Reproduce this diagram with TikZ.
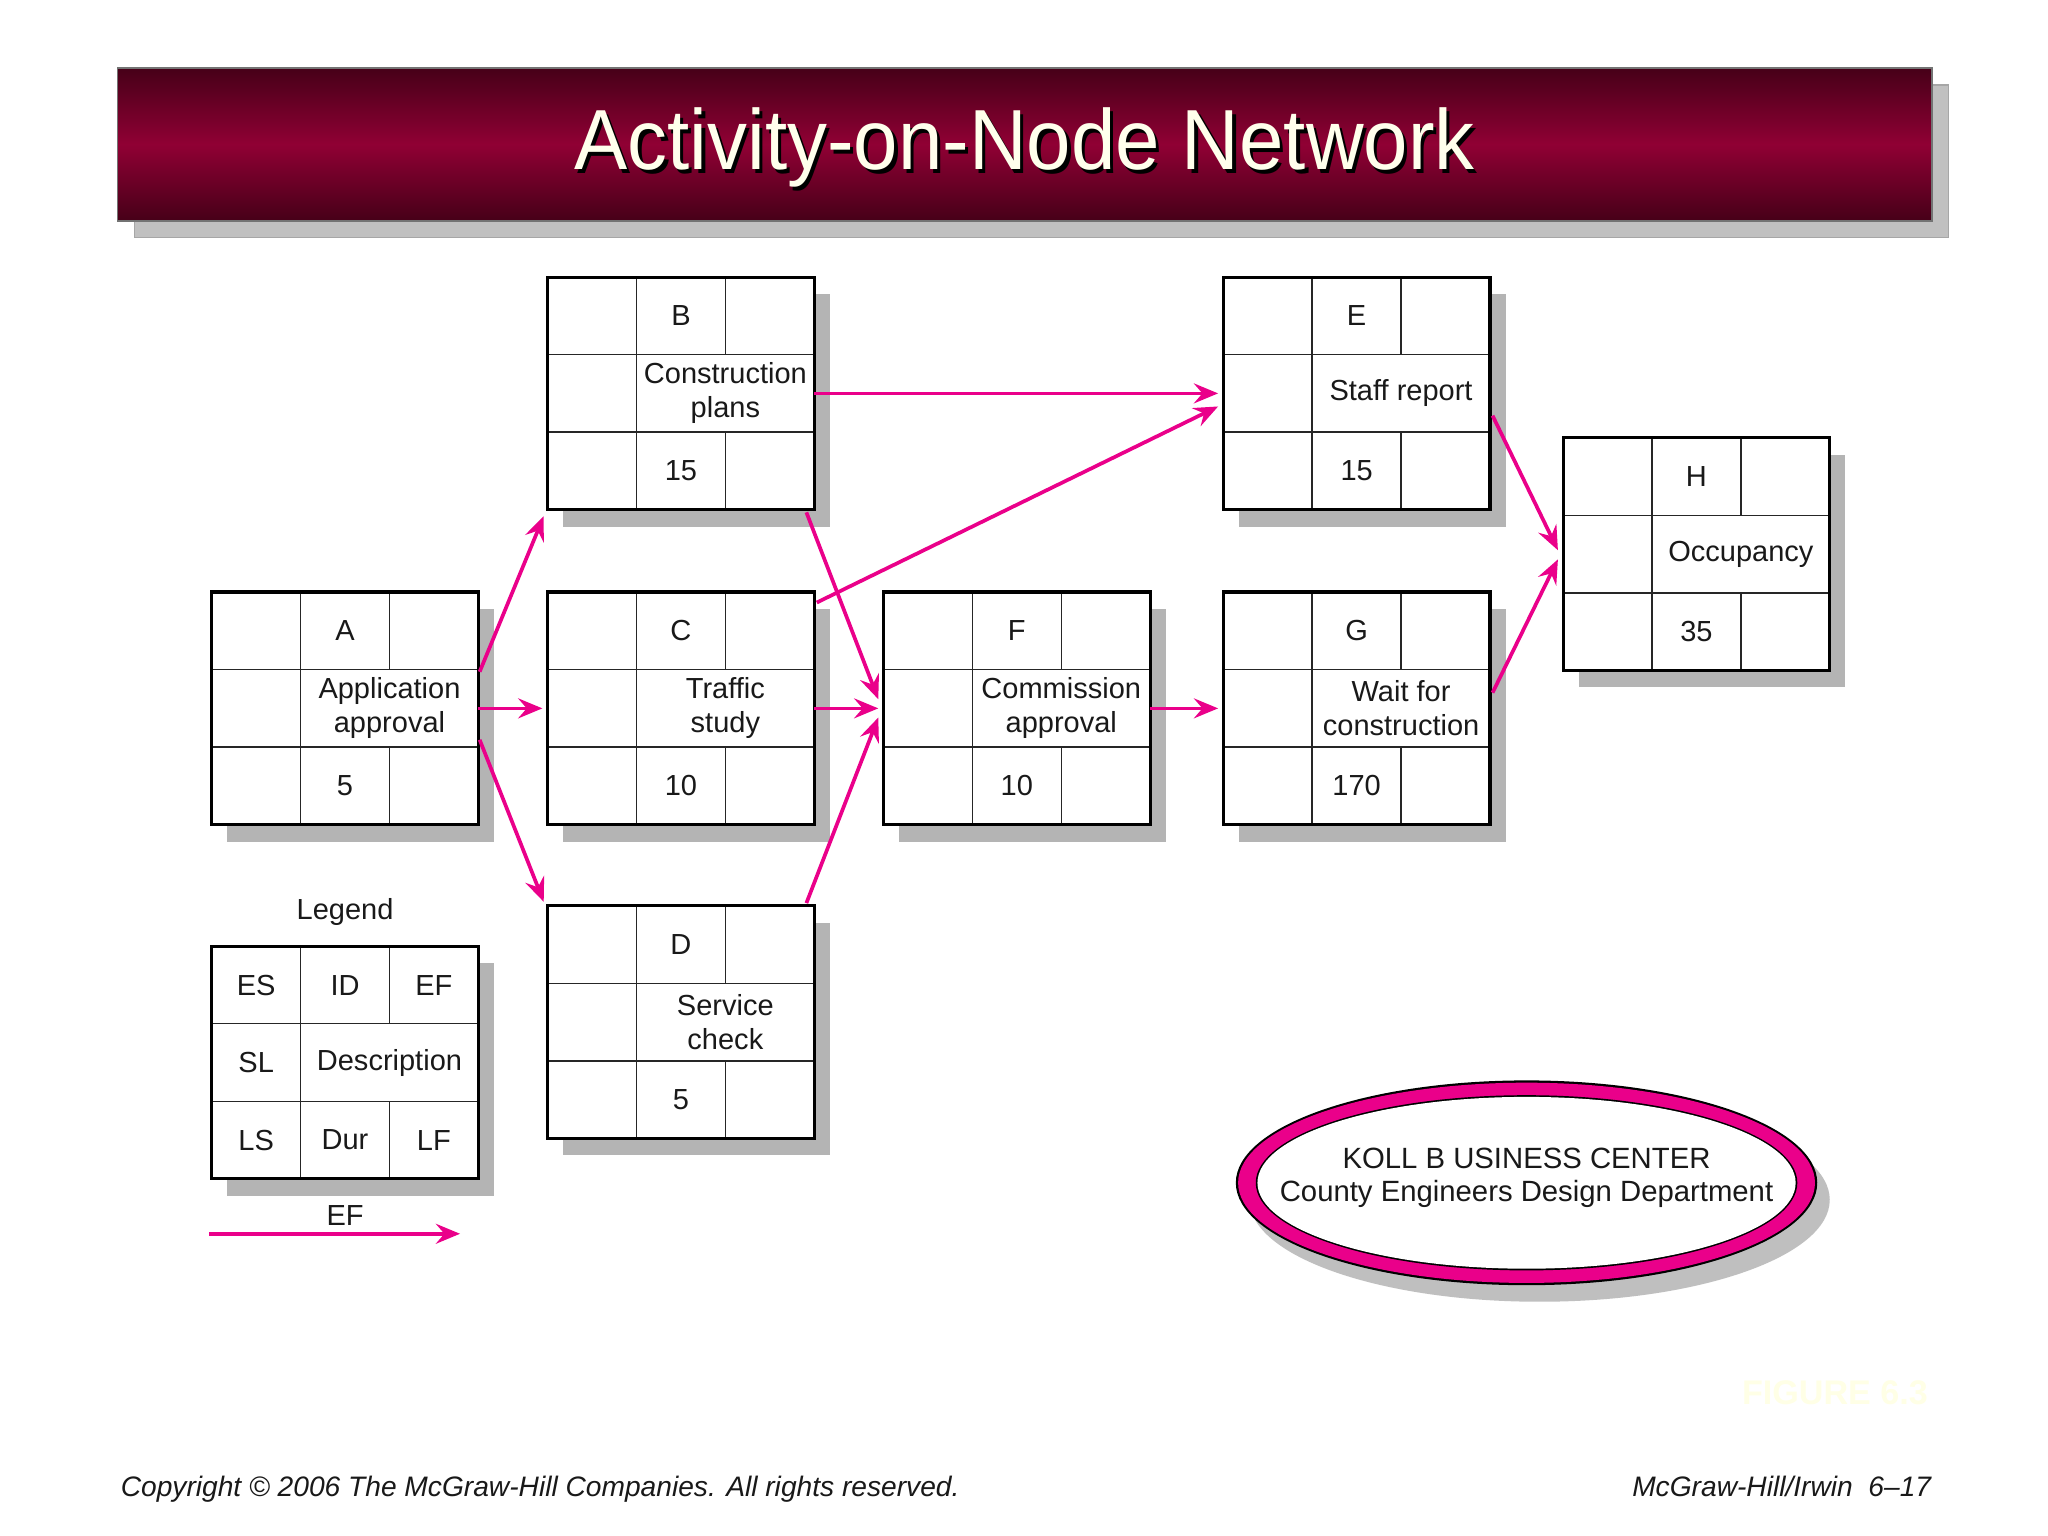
\documentclass[tikz,border=0pt]{standalone}
\usepackage{fontspec}
\setmainfont{Liberation Sans}
\usetikzlibrary{calc,arrows.meta}
\definecolor{pinkarrow}{RGB}{234,0,138}
\definecolor{boxshadow}{RGB}{180,180,180}
\definecolor{bannerdark}{RGB}{70,0,24}
\definecolor{bannermid}{RGB}{144,0,52}
\definecolor{bannershadow}{RGB}{192,192,192}
\definecolor{titlecream}{RGB}{255,255,236}
\definecolor{faintyellow}{RGB}{255,255,230}
\newcommand{\gridbox}[2]{%
  \coordinate (#1c) at #2;
  \fill[shadowfill] ($(#1c)+(-90,-76)$) rectangle ($(#1c)+(114,102)$);
  \node[boxframe] (#1) at (#1c) {};
  \draw[cellline] ($(#1c)+(-102,-29.67)$) -- ($(#1c)+(102,-29.67)$)
    ($(#1c)+(-102,29.67)$) -- ($(#1c)+(102,29.67)$)
    ($(#1c)+(-34,-89)$) -- ($(#1c)+(-34,89)$)
    ($(#1c)+(34,-89)$) -- ($(#1c)+(34,-29.67)$)
    ($(#1c)+(34,29.67)$) -- ($(#1c)+(34,89)$);
  \draw[line width=1.1pt] (#1.north west) rectangle (#1.south east);
}
\newcommand{\actbox}[5]{%
  \gridbox{#1}{#2}
  \node (#1-id) at ($(#1c)+(0,-59.33)$) {#3};
  \node[align=center] (#1-desc) at ($(#1c)+(34,0)$) {#4};
  \node (#1-dur) at ($(#1c)+(0,59.33)$) {#5};
}
\begin{document}
\begin{tikzpicture}[x=0.45948pt,y=-0.45948pt,
  every node/.style={font=\fontsize{10.2}{12}\selectfont, text=black!90, inner sep=0pt},
  boxframe/.style={rectangle, fill=white, draw=none, outer sep=0pt, minimum width=93.73pt, minimum height=81.79pt},
  cellline/.style={draw=black!85, line width=0.5pt},
  shadowfill/.style={fill=boxshadow},
  link/.style={draw=pinkarrow, line width=1.3pt, -{Stealth[length=8.5pt,width=7pt,inset=3pt]}},
]
\useasboundingbox (0,0) rectangle (1567,1175);
\fill[white] (0,0) rectangle (1567,1175);

% banner
\fill[bannershadow, draw=black!35, line width=0.4pt] (103,65) rectangle (1491,182);
\shade[top color=bannerdark, bottom color=bannerdark, middle color=bannermid] (90,52) rectangle (1478,169);
\draw[black!55, line width=0.6pt] (90,52) rectangle (1478,169);
\node[text=black, font=\fontsize{30}{36}\selectfont] (titleshadow) at (786.5,115.5) {\scalebox{0.935}[1]{Activity-on-Node Network}};
\node[text=titlecream, font=\fontsize{30}{36}\selectfont] (title) at (784,113) {\scalebox{0.935}[1]{Activity-on-Node Network}};

% activity boxes
\actbox{B}{(521,301)}{B}{Construction\\plans}{15}
\actbox{E}{(1038,301)}{E}{Staff report}{15}
\actbox{A}{(264,542)}{A}{Application\\approval}{5}
\actbox{C}{(521,542)}{C}{Traffic\\study}{10}
\actbox{F}{(778,542)}{F}{Commission\\approval}{10}
\actbox{G}{(1038,542)}{G}{Wait for\\construction}{170}
\actbox{H}{(1298,424)}{H}{Occupancy}{35}
\actbox{D}{(521,782)}{D}{Service\\check}{5}

% legend
\node (legendlabel) at (264,698) {Legend};
\gridbox{L}{(264,813)}
\node (L-es) at ($(Lc)+(-68,-59.33)$) {ES};
\node (L-id) at ($(Lc)+(0,-59.33)$) {ID};
\node (L-ef) at ($(Lc)+(68,-59.33)$) {EF};
\node (L-sl) at ($(Lc)+(-68,0)$) {SL};
\node (L-desc) at ($(Lc)+(34,0)$) {Description};
\node (L-ls) at ($(Lc)+(-68,59.33)$) {LS};
\node (L-dur) at ($(Lc)+(0,59.33)$) {Dur};
\node (L-lf) at ($(Lc)+(68,59.33)$) {LF};
\node (eflabel) at (264,930) {EF};
\coordinate (efstart) at (160,944);
\coordinate (efend) at (352,944);
\draw[link] (efstart) -- (efend);

% connectors
\draw[link] ($(A.east)+(1,-28)$) -- ($(B.south west)+(-3,5)$);
\draw[link] (A.east) -- ($(C.west)+(-4,0)$);
\draw[link] ($(A.east)+(1,24)$) -- ($(D.north west)+(-3,-3)$);
\draw[link] (B.east) -- ($(E.west)+(-4,0)$);
\draw[link] ($(B.south east)+(-6,2)$) -- ($(F.west)+(-4,-7)$);
\draw[link] ($(C.north east)+(2,8)$) -- ($(E.west)+(-4,10)$);
\draw[link] (C.east) -- ($(F.west)+(-4,0)$);
\draw[link] ($(D.north east)+(-6,-2)$) -- ($(F.west)+(-4,7)$);
\draw[link] (F.east) -- ($(G.west)+(-4,0)$);
\draw[link] ($(E.east)+(2,17)$) -- ($(H.west)+(-4,-3)$);
\draw[link] ($(G.east)+(2,-12)$) -- ($(H.west)+(-4,4)$);

% ellipse label
\fill[boxshadow!85] (1178,918) ellipse [x radius=102pt, y radius=35.84pt];
\fill[black] (1168,905) ellipse [x radius=102.2pt, y radius=36pt];
\fill[pinkarrow] (1168,905) ellipse [x radius=101.4pt, y radius=35.2pt];
\fill[black] (1168,905) ellipse [x radius=95.2pt, y radius=30.8pt];
\fill[white] (1168,905) ellipse [x radius=94.6pt, y radius=30.2pt];
\node[align=center, font=\fontsize{10.3}{11.6}\selectfont] (koll) at (1168,901) {KOLL B USINESS CENTER\\County Engineers Design Department};

% faint figure label
\node[text=faintyellow, font=\bfseries\fontsize{12}{14}\selectfont] (figlabel) at (1404,1066) {FIGURE 6.3};

% footer
\node[anchor=base west, font=\itshape\fontsize{9.9}{12}\selectfont] (copyright) at (92,1145) {Copyright © 2006 The McGraw-Hill Companies. All rights reserved.};
\node[anchor=base east, font=\itshape\fontsize{9.9}{12}\selectfont] (pagenum) at (1478,1145) {McGraw-Hill/Irwin\ \ 6–17};
\end{tikzpicture}
\end{document}
